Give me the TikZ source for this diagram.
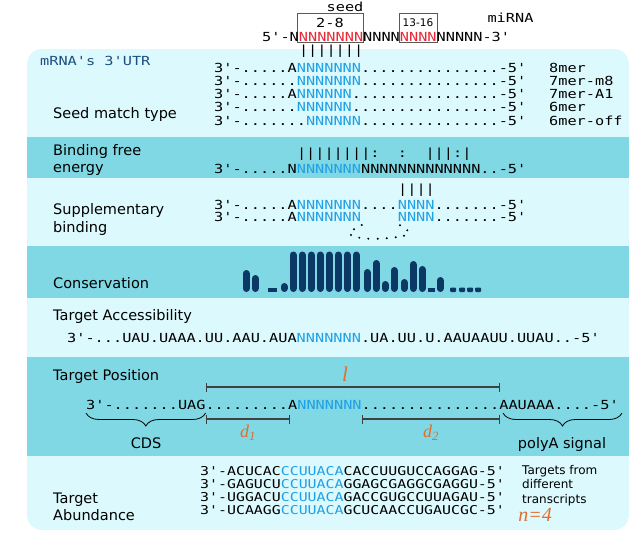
\documentclass[tikz,border=0pt]{standalone}
\usepackage{fontspec}
\usetikzlibrary{arrows.meta,decorations.pathreplacing}
\newfontfamily\monofam[FakeStretch=1.22,Ligatures=TeXOff]{DejaVu Sans Mono}
\newfontfamily\sansfam{DejaVu Sans}
\newfontfamily\serifam{Liberation Serif}
\definecolor{bandlight}{RGB}{220,249,253}
\definecolor{banddark}{RGB}{128,216,228}
\definecolor{nblue}{RGB}{32,160,230}
\definecolor{nred}{RGB}{232,40,52}
\definecolor{utrblue}{RGB}{28,78,128}
\definecolor{consnavy}{RGB}{12,56,102}
\definecolor{varorange}{RGB}{228,108,44}
\newcommand\bN[1]{\textcolor{nblue}{#1}}
\newcommand\rN[1]{\textcolor{nred}{#1}}
\tikzset{
  seq/.style={anchor=base west,inner sep=0pt,font=\monofam\fontsize{12.5}{14}\selectfont},
  lbl/.style={anchor=base west,inner sep=0pt,font=\sansfam\fontsize{14.5}{17}\selectfont},
  smalllbl/.style={anchor=base west,inner sep=0pt,font=\sansfam\fontsize{12}{14}\selectfont},
  varlbl/.style={text=varorange,inner sep=0pt,font=\serifam\itshape\fontsize{18}{20}\selectfont},
  dimline/.style={black!75,line width=1.1pt,{Bar[width=9pt]}-{Bar[width=9pt]}},
  consbar/.style={consnavy,line width=7pt,line cap=round},
  brc/.style={decorate,decoration={brace,mirror,amplitude=13pt},line width=0.8pt}
}
\begin{document}
\begin{tikzpicture}[x=1pt,y=-1pt]
\useasboundingbox (0,0) rectangle (640,533);

\begin{scope}
  \clip[rounded corners=15pt] (27,49) rectangle (629,530);
  \fill[bandlight] (27,49) rectangle (629,530);
  \fill[banddark] (27,137) rectangle (629,178);
  \fill[banddark] (27,246) rectangle (629,298);
  \fill[banddark] (27,357) rectangle (629,456);
\end{scope}

% miRNA on top
\node[seq,anchor=base] (seedword) at (345,11) {seed};
\draw[black!65,line width=0.9pt] (297,13) rectangle (363,42);
\draw[black!65,line width=0.9pt] (399,13) rectangle (437,42);
\node[seq,anchor=base] (seedpos) at (330,27.8) {2-8};
\node[smalllbl,anchor=base,font=\sansfam\fontsize{10.5}{12}\selectfont] (supppos) at (418,26) {13-16};
\node[seq,anchor=base] (mirna) at (510.5,22) {miRNA};
\node[seq] (mirseq) at (262,41) {5'-N\rN{NNNNNNN}NNNN\rN{NNNN}NNNNN-3'};
\node[seq] (seedpair) at (298.8,54) {|||||||};

\node[seq,text=utrblue] (utr) at (40,65.5) {mRNA's 3'UTR};

% seed match type
\node[lbl] (matchlbl) at (53,118) {Seed match type};
\foreach \row/\type [count=\k from 0] in {
  {3'-.....A\bN{NNNNNNN}...............-5'}/8mer,
  {3'-......\bN{NNNNNNN}...............-5'}/7mer-m8,
  {3'-.....A\bN{NNNNNN}................-5'}/7mer-A1,
  {3'-......\bN{NNNNNN}................-5'}/6mer,
  {3'-.......\bN{NNNNNN}...............-5'}/6mer-off}{
  \node[seq] (match\k) at (214,{72+13.3*\k}) {\row};
  \node[seq] (type\k) at (549,{72+13.3*\k}) {\type};
}

% binding free energy
\node[lbl] (bindlbl) at (53,155) {Binding free};
\node[lbl] (bindlbl2) at (53,172) {energy};
\node[seq] (bindpair) at (296.8,157.5) {||||||||:\phantom{::}:\phantom{::}|||:|};
\node[seq] (bindseq) at (214,173.5) {3'-.....N\bN{NNNNNNN}NNNNNNNNNNNNN..-5'};

% supplementary binding
\node[lbl] (supplbl) at (53,214) {Supplementary};
\node[lbl] (supplbl2) at (53,232) {binding};
\node[seq] (supppair) at (398,193) {||||};
\node[seq] (supp1) at (214,209.5) {3'-.....A\bN{NNNNNNN}....\bN{NNNN}.......-5'};
\node[seq] (supp2) at (214,221.5) {3'-.....A\bN{NNNNNNN}\phantom{....}\bN{NNNN}.......-5'};
\foreach \p in {(361.7,225),(354,229.3),(351,235),(359.3,237.7),(368.3,238.7),(377.7,238.7),
  (386.7,238.3),(395.7,237.3),(404,235.7),(407.3,230.3),(400,225.3)}
  \fill \p circle (1.1pt);

% conservation
\node[lbl] (conslbl) at (53,288) {Conservation};
\foreach \x/\h in {246/22,255/17,284/9,293/40.5,302/40.5,311/40.5,320/40.5,329/40.5,338/40.5,
  347/40.5,356/40.5,367/23,376/32,385/11,394/25,404/13,413/31,422/26,440/15}
  \draw[consbar] (\x,288.5) -- (\x,{295.5-\h});
\draw[consnavy,line width=3.3pt] (268,290) -- (277,290);
\draw[consnavy,line width=3.3pt] (428,290) -- (435,290);
\foreach \x in {453,462,470,478}
  \fill[consnavy,rounded corners=1pt] ({\x-3},287.5) rectangle ({\x+3},292);

% target accessibility
\node[lbl] (acclbl) at (53,320) {Target Accessibility};
\node[seq] (accseq) at (67,342.5) {3'-...UAU.UAAA.UU.AAU.AUA\bN{NNNNNNN}.UA.UU.U.AAUAAUU.UUAU..-5'};

% target position
\node[lbl] (poslbl) at (53,380) {Target Position};
\node[seq] (posseq) at (86,409.5) {3'-.......UAG.........A\bN{NNNNNNN}...............AAUAAA....-5'};
\coordinate (utrA) at (205.6,387);
\coordinate (utrB) at (500,387);
\coordinate (d1A) at (205.6,419);
\coordinate (d1B) at (290.4,419);
\coordinate (d2A) at (362,419);
\coordinate (d2B) at (500,419);
\draw[dimline] (utrA) -- (utrB);
\draw[dimline] (d1A) -- (d1B);
\draw[dimline] (d2A) -- (d2B);
\node[varlbl,font=\serifam\itshape\fontsize{21}{23}\selectfont] (lenl) at (345,374) {l};
\node[varlbl] (dist1) at (248,433) {d\textsubscript{1}};
\node[varlbl] (dist2) at (431,433) {d\textsubscript{2}};
\draw[brc] (86,413) -- (205.6,413);
\draw[brc] (503,413) -- (622,413);
\node[lbl,anchor=base] (cds) at (146,448) {CDS};
\node[lbl,anchor=base] (polya) at (562,448) {polyA signal};

% target abundance
\node[lbl] (abunlbl) at (53,503) {Target};
\node[lbl] (abunlbl2) at (53,520) {Abundance};
\foreach \pre/\post [count=\k from 0] in {ACUCAC/CACCUUGUCCAGGAG,GAGUCU/GGAGCGAGGCGAGGU,
  UGGACU/GACCGUGCCUUAGAU,UCAAGG/GCUCAACCUGAUCGC}
  \node[seq,font=\monofam\fontsize{12.2}{14}\selectfont] (abun\k) at (200,{475.5+13*\k}) {3'-\pre\bN{CCUUACA}\post-5'};
\node[smalllbl] (targets1) at (522,474.5) {Targets from};
\node[smalllbl] (targets2) at (522,488.5) {different};
\node[smalllbl] (targets3) at (522,503) {transcripts};
\node[varlbl,font=\serifam\itshape\fontsize{20}{22}\selectfont] (ncount) at (535,515) {n=4};
\end{tikzpicture}
\end{document}
